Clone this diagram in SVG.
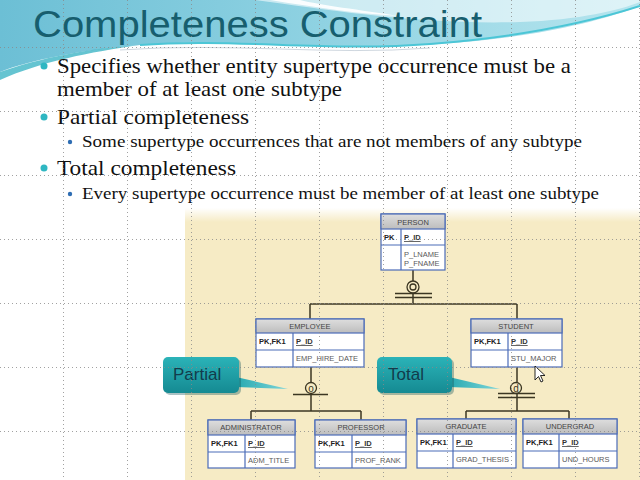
<svg xmlns="http://www.w3.org/2000/svg" width="640" height="480" viewBox="0 0 640 480">
<defs>
<linearGradient id="hdr" x1="0" y1="0" x2="1" y2="0">
<stop offset="0" stop-color="#6cbfd5"/>
<stop offset="0.5" stop-color="#8fd2e2"/>
<stop offset="1" stop-color="#b6e5ee"/>
</linearGradient>
<linearGradient id="beigeFade" x1="0" y1="0" x2="0" y2="1">
<stop offset="0" stop-color="#ffffff" stop-opacity="1"/>
<stop offset="1" stop-color="#ffffff" stop-opacity="0"/>
</linearGradient>
<linearGradient id="eh" x1="0" y1="0" x2="0" y2="1">
<stop offset="0" stop-color="#dedede"/>
<stop offset="1" stop-color="#bdbdbd"/>
</linearGradient>
<linearGradient id="call" x1="0" y1="0" x2="0" y2="1">
<stop offset="0" stop-color="#2bb3b8"/>
<stop offset="1" stop-color="#158a92"/>
</linearGradient>
<linearGradient id="tail" x1="0" y1="0" x2="1" y2="0">
<stop offset="0" stop-color="#27a9b0"/>
<stop offset="1" stop-color="#7fd6da"/>
</linearGradient>
</defs>
<style>
.title{font-family:"Liberation Sans",Arial,sans-serif;font-size:37px;fill:#175e6e}
.b1{font-family:"Liberation Serif",serif;font-size:21px;fill:#111}
.b2{font-family:"Liberation Serif",serif;font-size:16px;fill:#111}
.ent rect.box{fill:#ffffff;stroke:#4b6cb7;stroke-width:1.2}
.ent rect.hd{fill:url(#eh);stroke:#4b6cb7;stroke-width:1.2}
.ent line{stroke:#4b6cb7;stroke-width:1.2}
.en{font-family:"Liberation Sans",Arial,sans-serif;font-size:7.5px;fill:#444;text-anchor:middle}
.pk{font-family:"Liberation Sans",Arial,sans-serif;font-size:7.5px;fill:#222;font-weight:bold}
.id{font-family:"Liberation Sans",Arial,sans-serif;font-size:7.5px;fill:#333;font-weight:bold;text-decoration:underline}
.at{font-family:"Liberation Sans",Arial,sans-serif;font-size:7.5px;fill:#5a5a5a}
.conn line,.conn polyline{stroke:#3b3622;stroke-width:1.5;fill:none}
.conn circle{fill:none;stroke:#3b3622;stroke-width:1.3}
.sym{font-family:"Liberation Sans",Arial,sans-serif;font-size:10px;fill:#3b3622;text-anchor:middle}
.ctext{font-family:"Liberation Sans",Arial,sans-serif;font-size:17px;fill:#123c4c}
.grid line{stroke:#8a8a8a;stroke-width:1;stroke-dasharray:1 3;opacity:0.8}
</style>
<rect width="640" height="480" fill="#ffffff"/>
<!-- header -->
<path d="M0,0 H640 V6 C590,25 520,40 420,45 C320,50 220,38 140,45 C80,50 30,60 0,72 Z" fill="url(#hdr)"/>
<path d="M255,0 C330,10 420,25 520,22 C580,20 620,10 640,2 V0 Z" fill="#ffffff" opacity="0.55"/>
<path d="M270,0 C320,8 360,14 400,16 C360,10 320,5 300,0 Z" fill="#ffffff" opacity="0.9"/>
<path d="M0,72 C40,58 90,48 140,45 C90,52 40,62 0,80 Z" fill="#3fb5c6" opacity="0.8"/>
<path d="M140,45 C230,38 330,52 430,44 C520,37 590,22 640,6" fill="none" stroke="#4cc6d6" stroke-width="2"/>
<path d="M120,50 C230,42 330,56 430,48" fill="none" stroke="#9ab" stroke-width="0.8" opacity="0.6"/>
<text class="title" x="33" y="37" textLength="449" lengthAdjust="spacingAndGlyphs">Completeness Constraint</text>
<!-- bullets -->
<g fill="#2fb7c2">
<circle cx="44" cy="66" r="3.5"/>
<circle cx="44" cy="117" r="3.5"/>
<circle cx="44" cy="168" r="3.5"/>
</g>
<g fill="#2e6db3">
<circle cx="70" cy="142" r="2.2"/>
<circle cx="70" cy="194" r="2.2"/>
</g>
<text class="b1" x="57" y="73" textLength="514" lengthAdjust="spacingAndGlyphs">Specifies whether entity supertype occurrence must be a</text>
<text class="b1" x="57" y="96" textLength="285" lengthAdjust="spacingAndGlyphs">member of at least one subtype</text>
<text class="b1" x="57" y="124" textLength="192" lengthAdjust="spacingAndGlyphs">Partial completeness</text>
<text class="b2" x="82" y="147" textLength="500" lengthAdjust="spacingAndGlyphs">Some supertype occurrences that are not members of any subtype</text>
<text class="b1" x="57" y="175" textLength="179" lengthAdjust="spacingAndGlyphs">Total completeness</text>
<text class="b2" x="82" y="199" textLength="517" lengthAdjust="spacingAndGlyphs">Every supertype occurrence must be member of at least one subtype</text>
<!-- diagram background -->
<rect x="185" y="208" width="455" height="272" fill="#f6ebc5"/>
<rect x="185" y="208" width="455" height="14" fill="url(#beigeFade)"/>
<!-- connectors -->
<g class="conn" id="connectors">
<line x1="413" y1="270" x2="413" y2="281"/>
<circle cx="413" cy="287" r="6"/>
<circle cx="413" cy="287" r="3"/>
<line x1="413" y1="293" x2="413" y2="304"/>
<line x1="395" y1="293.5" x2="432" y2="293.5"/>
<line x1="395" y1="297.5" x2="432" y2="297.5"/>
<line x1="310" y1="304" x2="517" y2="304"/>
<line x1="310" y1="304" x2="310" y2="319"/>
<line x1="517" y1="304" x2="517" y2="319"/>
<line x1="311" y1="367" x2="311" y2="382"/>
<circle cx="311" cy="388" r="5.5"/>
<text class="sym" x="311" y="391.5">o</text>
<line x1="311" y1="393.5" x2="311" y2="411"/>
<line x1="293" y1="394.5" x2="328" y2="394.5"/>
<line x1="251" y1="411" x2="361" y2="411"/>
<line x1="251" y1="411" x2="251" y2="420"/>
<line x1="361" y1="411" x2="361" y2="420"/>
<line x1="517" y1="367" x2="517" y2="382"/>
<circle cx="516" cy="388" r="5.5"/>
<text class="sym" x="516" y="391.5">d</text>
<line x1="517" y1="393.5" x2="517" y2="411"/>
<line x1="498" y1="393.5" x2="535" y2="393.5"/>
<line x1="498" y1="397.5" x2="535" y2="397.5"/>
<line x1="466" y1="411" x2="569" y2="411"/>
<line x1="466" y1="411" x2="466" y2="419"/>
<line x1="569" y1="411" x2="569" y2="419"/>
</g>
<!-- entities -->
<g id="person" class="ent">
<rect class="box" x="381" y="214" width="64" height="56"/>
<rect class="hd" x="381" y="214" width="64" height="15"/>
<line x1="381" y1="245" x2="445" y2="245"/>
<line x1="401" y1="229" x2="401" y2="270"/>
<text class="en" x="413" y="224.5">PERSON</text>
<text class="pk" x="384" y="240">PK</text>
<text class="id" x="404" y="240">P_ID</text>
<text class="at" x="404" y="257">P_LNAME</text>
<text class="at" x="404" y="266">P_FNAME</text>
</g>
<g id="employee" class="ent">
<rect class="box" x="256" y="319" width="108" height="48"/>
<rect class="hd" x="256" y="319" width="108" height="14"/>
<line x1="256" y1="350" x2="364" y2="350"/>
<line x1="293" y1="333" x2="293" y2="367"/>
<text class="en" x="310" y="329">EMPLOYEE</text>
<text class="pk" x="259" y="344">PK,FK1</text>
<text class="id" x="296" y="344">P_ID</text>
<text class="at" x="296" y="361">EMP_HIRE_DATE</text>
</g>
<g id="student" class="ent">
<rect class="box" x="471" y="319" width="91" height="48"/>
<rect class="hd" x="471" y="319" width="91" height="14"/>
<line x1="471" y1="350" x2="562" y2="350"/>
<line x1="508" y1="333" x2="508" y2="367"/>
<text class="en" x="516" y="329">STUDENT</text>
<text class="pk" x="474" y="344">PK,FK1</text>
<text class="id" x="511" y="344">P_ID</text>
<text class="at" x="511" y="361">STU_MAJOR</text>
</g>
<g id="administrator" class="ent">
<rect class="box" x="208" y="420" width="87" height="48"/>
<rect class="hd" x="208" y="420" width="87" height="15"/>
<line x1="208" y1="452" x2="295" y2="452"/>
<line x1="245" y1="435" x2="245" y2="468"/>
<text class="en" x="251" y="430">ADMINISTRATOR</text>
<text class="pk" x="211" y="446">PK,FK1</text>
<text class="id" x="248" y="446">P_ID</text>
<text class="at" x="248" y="463">ADM_TITLE</text>
</g>
<g id="professor" class="ent">
<rect class="box" x="315" y="420" width="91" height="48"/>
<rect class="hd" x="315" y="420" width="91" height="15"/>
<line x1="315" y1="452" x2="406" y2="452"/>
<line x1="352" y1="435" x2="352" y2="468"/>
<text class="en" x="361" y="430">PROFESSOR</text>
<text class="pk" x="318" y="446">PK,FK1</text>
<text class="id" x="355" y="446">P_ID</text>
<text class="at" x="355" y="463">PROF_RANK</text>
</g>
<g id="graduate" class="ent">
<rect class="box" x="417" y="419" width="99" height="49"/>
<rect class="hd" x="417" y="419" width="99" height="15"/>
<line x1="417" y1="451" x2="516" y2="451"/>
<line x1="453" y1="434" x2="453" y2="468"/>
<text class="en" x="466" y="429">GRADUATE</text>
<text class="pk" x="420" y="445">PK,FK1</text>
<text class="id" x="456" y="445">P_ID</text>
<text class="at" x="456" y="462">GRAD_THESIS</text>
</g>
<g id="undergrad" class="ent">
<rect class="box" x="523" y="419" width="94" height="49"/>
<rect class="hd" x="523" y="419" width="94" height="15"/>
<line x1="523" y1="451" x2="617" y2="451"/>
<line x1="559" y1="434" x2="559" y2="468"/>
<text class="en" x="570" y="429">UNDERGRAD</text>
<text class="pk" x="526" y="445">PK,FK1</text>
<text class="id" x="562" y="445">P_ID</text>
<text class="at" x="562" y="462">UND_HOURS</text>
</g>
<!-- callouts -->
<g id="callout-partial">
<polygon points="236,377 236,387 288,389" fill="url(#tail)"/>
<rect x="165" y="359" width="76" height="36" rx="5" fill="#0d4f55" opacity="0.35"/>
<rect x="163" y="357" width="76" height="36" rx="5" fill="url(#call)"/>
<text class="ctext" x="173" y="380">Partial</text>
</g>
<g id="callout-total">
<polygon points="449,377 449,387 500,389" fill="url(#tail)"/>
<rect x="379" y="359" width="75" height="36" rx="5" fill="#0d4f55" opacity="0.35"/>
<rect x="377" y="357" width="75" height="36" rx="5" fill="url(#call)"/>
<text class="ctext" x="388" y="380">Total</text>
</g>
<!-- mouse cursor -->
<path d="M535,366 L535,380 L538.5,376.5 L541,382 L543,381 L540.5,375.5 L545,375.5 Z" fill="#ffffff" stroke="#111" stroke-width="0.9"/>
<!-- gridlines -->
<g class="grid">
<line x1="63.5" y1="0" x2="63.5" y2="480"/>
<line x1="127.5" y1="0" x2="127.5" y2="480"/>
<line x1="191.5" y1="0" x2="191.5" y2="480"/>
<line x1="255.5" y1="0" x2="255.5" y2="480"/>
<line x1="319.5" y1="0" x2="319.5" y2="480"/>
<line x1="383.5" y1="0" x2="383.5" y2="480"/>
<line x1="447.5" y1="0" x2="447.5" y2="480"/>
<line x1="511.5" y1="0" x2="511.5" y2="480"/>
<line x1="575.5" y1="0" x2="575.5" y2="480"/>
<line x1="639.5" y1="0" x2="639.5" y2="480"/>
<line x1="0" y1="47.5" x2="640" y2="47.5"/>
<line x1="0" y1="111.5" x2="640" y2="111.5"/>
<line x1="0" y1="175.5" x2="640" y2="175.5"/>
<line x1="0" y1="239.5" x2="640" y2="239.5"/>
<line x1="0" y1="303.5" x2="640" y2="303.5"/>
<line x1="0" y1="367.5" x2="640" y2="367.5"/>
<line x1="0" y1="431.5" x2="640" y2="431.5"/>
</g>
</svg>
